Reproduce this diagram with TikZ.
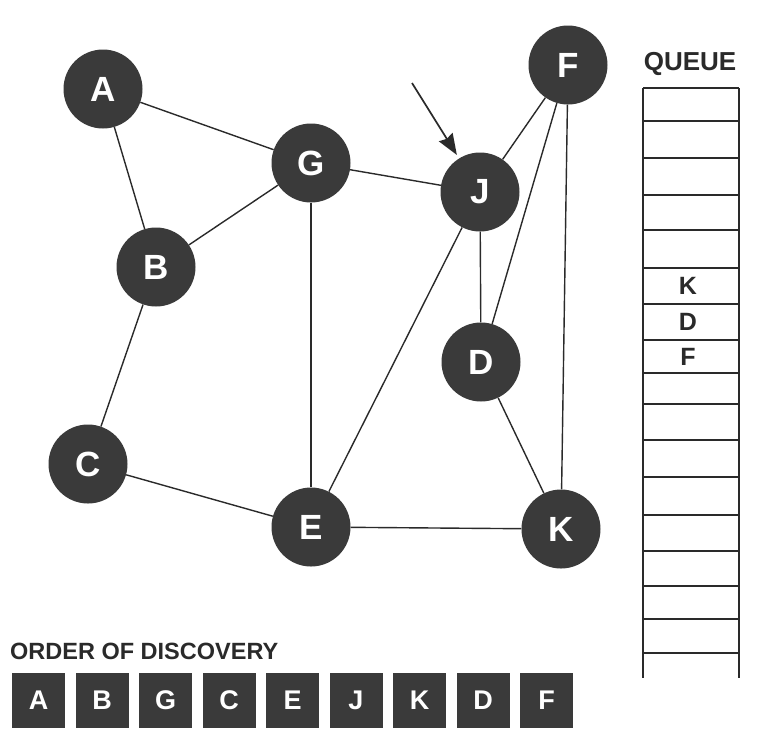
\documentclass[tikz,border=0pt]{standalone}
\usepackage{fontspec}
\setmainfont{Liberation Sans}
\usepackage{xcolor}
\usetikzlibrary{arrows.meta}
\definecolor{vertexgray}{HTML}{3A3A3A}
\definecolor{inkgray}{HTML}{2A2A2A}

\begin{document}
\begin{tikzpicture}[
  x=1pt, y=-1pt,
  vertex/.style={circle, fill=vertexgray, draw=none, minimum size=79pt, inner sep=0pt, text=white, font=\fontsize{35}{35}\selectfont\bfseries},
  edge/.style={draw=inkgray, line width=1.4pt},
  slot/.style={draw=inkgray, line width=2pt},
  queued/.style={text=inkgray, font=\fontsize{25}{25}\selectfont\bfseries},
  found/.style={rectangle, fill=vertexgray, minimum width=53pt, minimum height=55pt, inner sep=0pt, text=white, font=\fontsize{27}{27}\selectfont\bfseries},
  heading/.style={text=inkgray, inner sep=0pt, font=\fontsize{23.5}{23.5}\selectfont\bfseries},
]
\useasboundingbox (0,0) rectangle (770,740);
% graph
\node[vertex] (A) at (103,89) {A};
\node[vertex] (G) at (311,163) {G};
\node[vertex] (J) at (480,192) {J};
\node[vertex] (F) at (568,65) {F};
\node[vertex] (B) at (156,267) {B};
\node[vertex] (D) at (481,362) {D};
\node[vertex] (C) at (88,464) {C};
\node[vertex] (E) at (311,527) {E};
\node[vertex] (K) at (561,529) {K};
\foreach \u/\v in {A/G, A/B, B/G, B/C, C/E, G/E, G/J, J/E, J/F, J/D, F/D, F/K, D/K, E/K}
  \draw[edge] (\u) -- (\v);
% pointer to the current vertex
\coordinate (pointer) at (412,83);
\draw[edge, line width=1.7pt, -{Stealth[length=21pt,width=16pt,inset=2pt]}, shorten >=4pt] (pointer) -- (J);
% queue
\node[heading, anchor=center, font=\fontsize{26}{26}\selectfont\bfseries] (qtitle) at (690,64) {QUEUE};
\draw[slot] (643,88) -- (643,678) (739,88) -- (739,678);
\foreach \y in {88,121,158,195,230,268,304,340,373,404,440,477,515,551,586,619,653}
  \draw[slot] (643,\y) -- (739,\y);
\node[queued] (qK) at (688,286) {K};
\node[queued] (qD) at (688,322) {D};
\node[queued] (qF) at (688,357) {F};
% order of discovery
\node[heading, anchor=west] (otitle) at (10,651) {ORDER OF DISCOVERY};
\foreach \name [count=\i from 0] in {A,B,G,C,E,J,K,D,F}
  \node[found] (o\name) at (38.5+63.5*\i,700.5) {\name};
\end{tikzpicture}
\end{document}
